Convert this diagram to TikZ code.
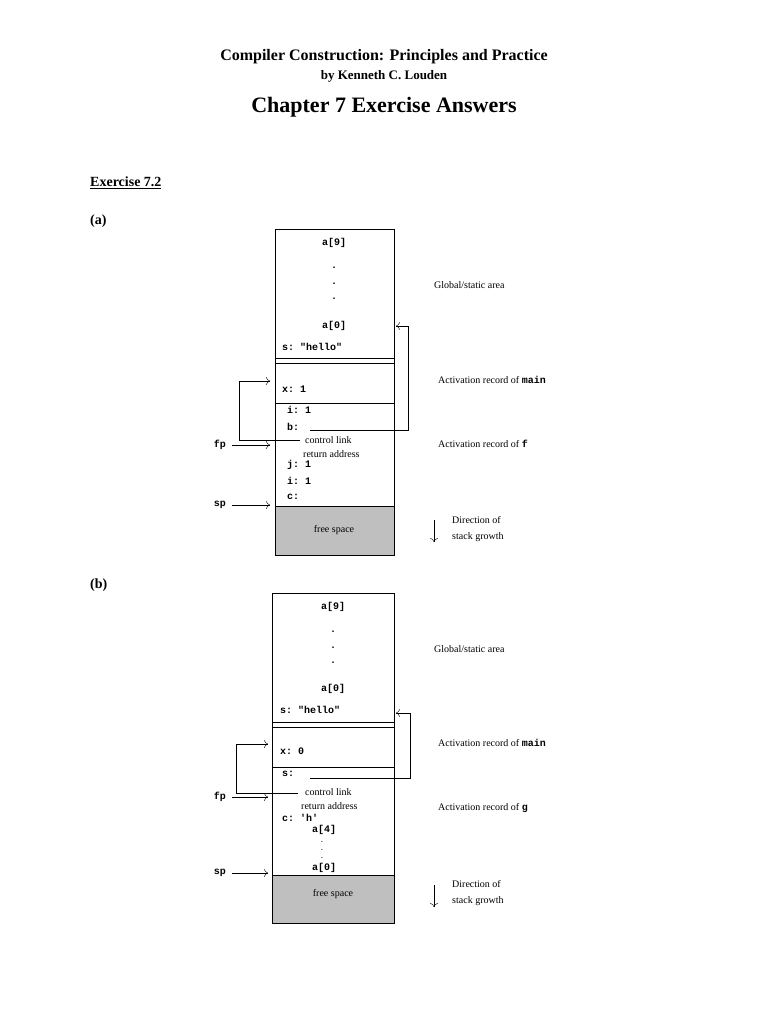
\documentclass[tikz,border=0pt]{standalone}
\usepackage{fontspec}
\setmainfont{Liberation Serif}
\setmonofont{Liberation Mono}
\usetikzlibrary{arrows.meta}
\begin{document}
\begin{tikzpicture}[x=1pt,y=-1pt,
    txt/.style={font=\fontsize{10}{12}\selectfont, inner sep=0pt, anchor=west},
    code/.style={font=\ttfamily\bfseries\fontsize{10}{12}\selectfont, inner sep=0pt, anchor=west},
    dots/.style={font=\ttfamily\bfseries\fontsize{10}{12}\selectfont, inner sep=0pt},
    link/.style={-{To[length=4pt,width=8pt]}, thin}]
  \useasboundingbox (0,0) rectangle (768,1024);

  \node[font=\bfseries\fontsize{16}{18}\selectfont] (title) at (384,57) {Compiler Construction: Principles and Practice};
  \node[font=\bfseries\fontsize{13}{15}\selectfont] (author) at (384,76) {by Kenneth C. Louden};
  \node[font=\bfseries\fontsize{22}{24}\selectfont] (chap) at (384,107) {Chapter 7 Exercise Answers};
  \node[font=\bfseries\fontsize{14}{16}\selectfont, anchor=west, inner sep=0pt] (ex) at (90,183) {\underline{Exercise 7.2}};
  \node[font=\bfseries\fontsize{14}{16}\selectfont, anchor=west, inner sep=0pt] (pa) at (90,221) {(a)};
  \node[font=\bfseries\fontsize{14}{16}\selectfont, anchor=west, inner sep=0pt] (pb) at (90,585) {(b)};

  % (a)
  \fill[gray!50] (275,506) rectangle (394,555);
  \draw (275,229) rectangle (394,555);
  \draw (275,358) -- (394,358) (275,363) -- (394,363) (275,403) -- (394,403) (275,506) -- (394,506);
  \node[dots] (a9) at (334,243) {a[9]};
  \node[dots] at (334,268) {.};
  \node[dots] at (334,284) {.};
  \node[dots] at (334,299) {.};
  \node[dots] (a0) at (334,326) {a[0]};
  \node[code] (s) at (282,347) {s: "hello"};
  \node[code] (x) at (282,389) {x: 1};
  \node[code] at (287,410) {i: 1};
  \node[code] (b) at (287,427) {b:};
  \node[txt] (cl) at (305,440) {control link};
  \node[txt] at (303,454) {return address};
  \node[code] at (287,465) {j: 1};
  \node[code] at (287,481) {i: 1};
  \node[code] at (287,497) {c:};
  \node[txt, anchor=center] at (334,530) {free space};
  \node[code, anchor=east] (fp) at (226,445) {fp};
  \node[code, anchor=east] (sp) at (226,505) {sp};
  \draw[link] (fp.east) ++(6,0) -- (270,445);
  \draw[link] (sp.east) ++(6,0) -- (270,505);
  \draw[link] (300,440) -- (239,440) -- (239,381) -- (270,381);
  \draw[link] (310,430) -- (408,430) -- (408,326) -- (396,326);
  \node[txt] at (434,285) {Global/static area};
  \node[txt] at (438,380) {Activation record of \texttt{\bfseries main}};
  \node[txt] at (438,444) {Activation record of \texttt{\bfseries f}};
  \draw[link] (434,520) -- (434,542);
  \node[txt] at (452,520) {Direction of};
  \node[txt] at (452,537) {stack growth};

  % (b)
  \fill[gray!50] (272,875) rectangle (394,923);
  \draw (272,593) rectangle (394,923);
  \draw (272,722) -- (394,722) (272,727) -- (394,727) (272,767) -- (394,767) (272,875) -- (394,875);
  \node[dots] (b9) at (333,607) {a[9]};
  \node[dots] at (333,632) {.};
  \node[dots] at (333,648) {.};
  \node[dots] at (333,663) {.};
  \node[dots] (b0) at (333,689) {a[0]};
  \node[code] at (280,710) {s: "hello"};
  \node[code] at (280,751) {x: 0};
  \node[code] at (282,774) {s:};
  \node[txt] at (305,792) {control link};
  \node[txt] at (301,806) {return address};
  \node[code] at (282,818) {c: 'h'};
  \node[dots] at (324,830) {a[4]};
  \node[dots, font=\ttfamily\fontsize{7}{8}\selectfont] at (322,842) {.};
  \node[dots, font=\ttfamily\fontsize{7}{8}\selectfont] at (322,850) {.};
  \node[dots, font=\ttfamily\fontsize{7}{8}\selectfont] at (322,858) {.};
  \node[dots] at (324,868) {a[0]};
  \node[txt, anchor=center] at (333,894) {free space};
  \node[code, anchor=east] (fpb) at (226,797) {fp};
  \node[code, anchor=east] (spb) at (226,873) {sp};
  \draw[link] (fpb.east) ++(6,0) -- (268,797);
  \draw[link] (spb.east) ++(6,0) -- (268,873);
  \draw[link] (298,793) -- (236,793) -- (236,744) -- (268,744);
  \draw[link] (310,778) -- (410,778) -- (410,713) -- (396,713);
  \node[txt] at (434,649) {Global/static area};
  \node[txt] at (438,743) {Activation record of \texttt{\bfseries main}};
  \node[txt] at (438,808) {Activation record of \texttt{\bfseries g}};
  \draw[link] (434,885) -- (434,907);
  \node[txt] at (452,884) {Direction of};
  \node[txt] at (452,901) {stack growth};
\end{tikzpicture}
\end{document}
